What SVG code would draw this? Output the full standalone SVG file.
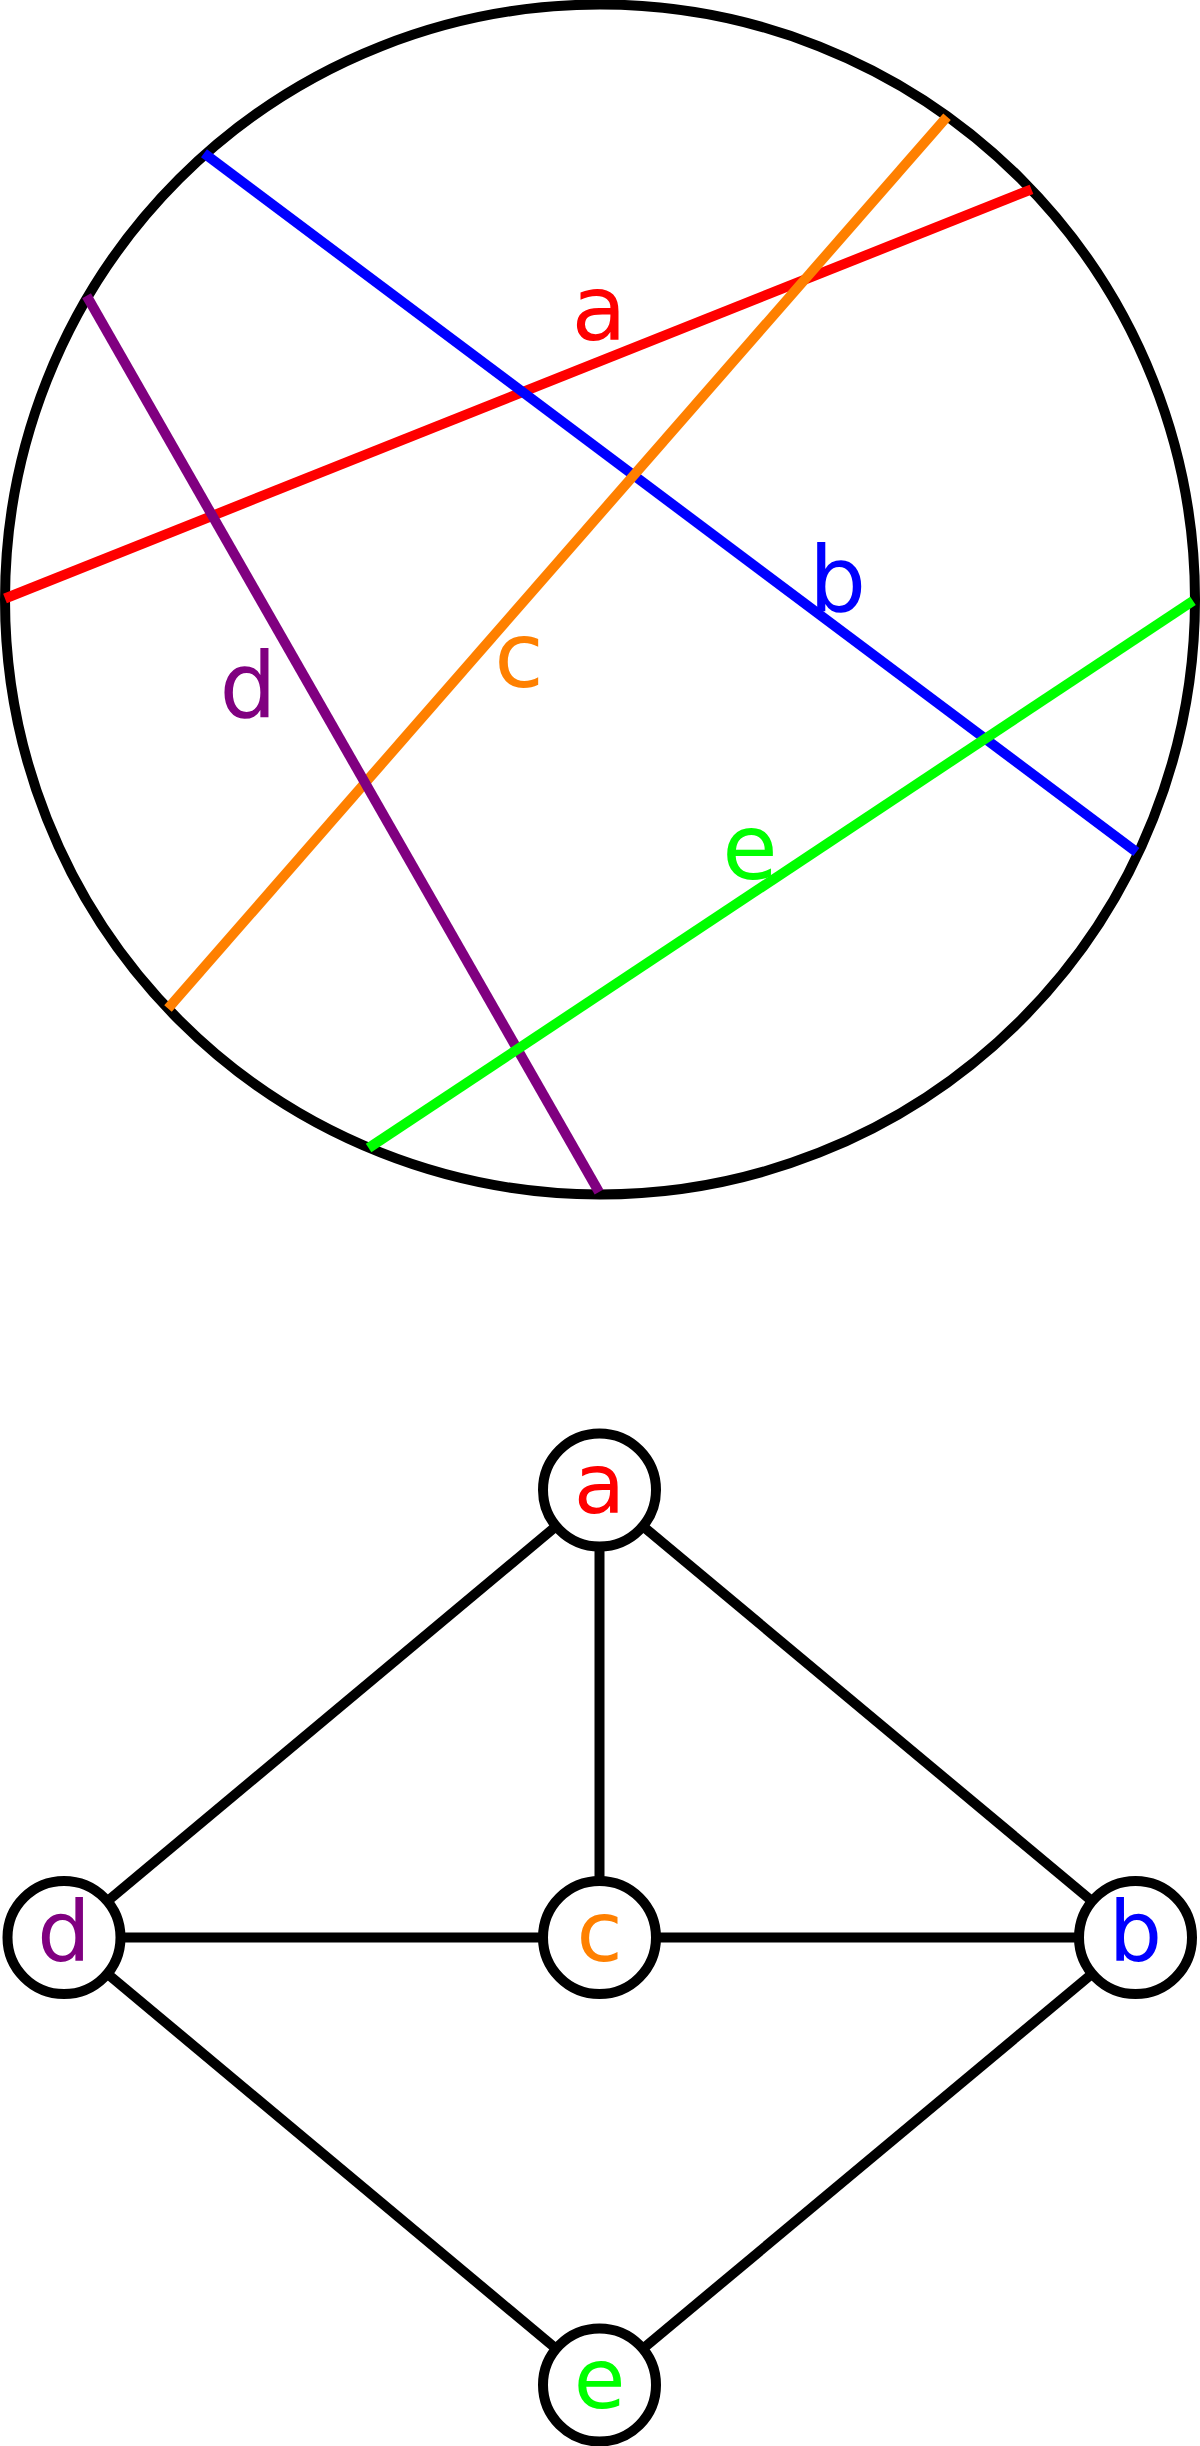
<svg xmlns="http://www.w3.org/2000/svg" width="1200" height="2446" viewBox="0 0 1200 2446">
<style>
.chord{fill:none;stroke-width:10;stroke-linecap:butt}
.outline{fill:none;stroke:#000;stroke-width:10}
.edge{stroke:#000;stroke-width:10;stroke-linecap:butt}
.node circle{fill:#fff;stroke:#000;stroke-width:10}
.lbl{font-family:"DejaVu Sans","Liberation Sans",sans-serif;font-size:90px;text-anchor:middle}
.nlbl{font-family:"DejaVu Sans","Liberation Sans",sans-serif;font-size:84px;text-anchor:middle}
.ra{fill:#ff0000;stroke:#ff0000}
.rb{fill:#0000ff;stroke:#0000ff}
.rc{fill:#ff8000;stroke:#ff8000}
.rd{fill:#800080;stroke:#800080}
.re{fill:#00ff00;stroke:#00ff00}
</style>
<rect width="1200" height="2446" fill="#fff"/>
<g id="circle-diagram">
<circle class="outline" cx="600" cy="599.5" r="595"/>
<g id="chord-a"><line class="chord ra" x1="5" y1="598.5" x2="1031.5" y2="189.3"/><text class="lbl" x="599" y="340" fill="#ff0000" stroke="none">a</text></g>
<g id="chord-b"><line class="chord rb" x1="204" y1="153.3" x2="1136.4" y2="852"/><text class="lbl" x="837.5" y="611" fill="#0000ff" stroke="none">b</text></g>
<g id="chord-c"><line class="chord rc" x1="947" y1="116.7" x2="168" y2="1008.5"/><text class="lbl" x="519" y="687" fill="#ff8000" stroke="none">c</text></g>
<g id="chord-d"><line class="chord rd" x1="86.6" y1="295.8" x2="599" y2="1192"/><text class="lbl" x="248" y="716.5" fill="#800080" stroke="none">d</text></g>
<g id="chord-e"><line class="chord re" x1="1193" y1="600.8" x2="368.6" y2="1148"/><text class="lbl" x="750" y="879" fill="#00ff00" stroke="none">e</text></g>
</g>
<g id="connectors">
<line class="edge" x1="556.15" y1="1526.23" x2="107.35" y2="1901.27"/>
<line class="edge" x1="642.85" y1="1526.23" x2="1092.15" y2="1901.27"/>
<line class="edge" x1="599.5" y1="1546.5" x2="599.5" y2="1881"/>
<line class="edge" x1="120.5" y1="1937.5" x2="543" y2="1937.5"/>
<line class="edge" x1="656" y1="1937.5" x2="1079" y2="1937.5"/>
<line class="edge" x1="107.35" y1="1973.73" x2="556.15" y2="2348.77"/>
<line class="edge" x1="1092.15" y1="1973.73" x2="642.85" y2="2348.77"/>
</g>
<g id="node-a" class="node"><circle cx="599.5" cy="1490" r="56.5"/><text class="nlbl" x="599.5" y="1513" fill="#ff0000">a</text></g>
<g id="node-d" class="node"><circle cx="64" cy="1937.5" r="56.5"/><text class="nlbl" x="64" y="1960.5" fill="#800080">d</text></g>
<g id="node-c" class="node"><circle cx="599.5" cy="1937.5" r="56.5"/><text class="nlbl" x="599.5" y="1960.5" fill="#ff8000">c</text></g>
<g id="node-b" class="node"><circle cx="1135.5" cy="1937.5" r="56.5"/><text class="nlbl" x="1135.5" y="1960.5" fill="#0000ff">b</text></g>
<g id="node-e" class="node"><circle cx="599.5" cy="2385" r="56.5"/><text class="nlbl" x="599.5" y="2408" fill="#00ff00">e</text></g>
</svg>
